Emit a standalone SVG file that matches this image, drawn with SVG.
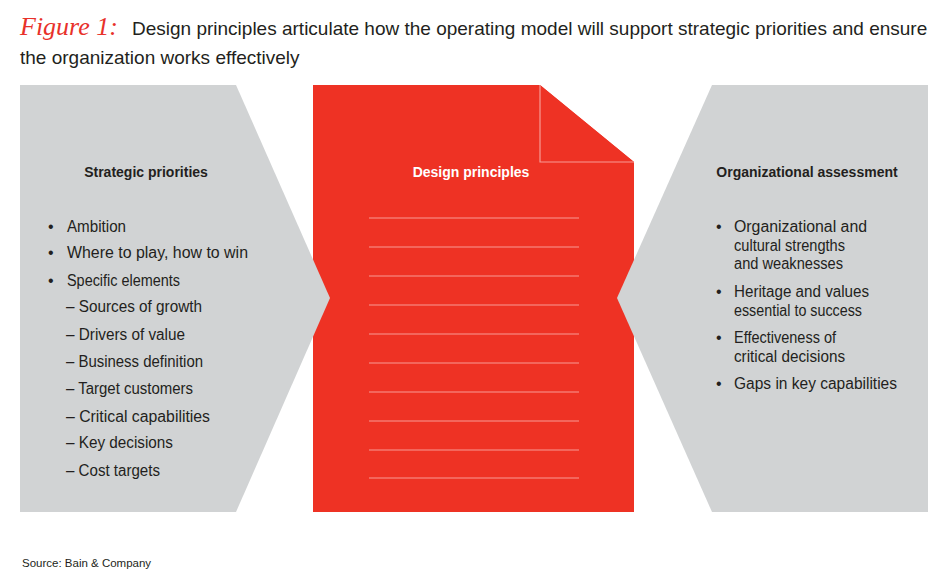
<svg xmlns="http://www.w3.org/2000/svg" width="950" height="579" viewBox="0 0 950 579">
  <style>
    .title { font-family: "Liberation Sans", Arial, sans-serif; font-size: 19px; fill: #231F20; }
    .fig { font-family: "Liberation Serif", "DejaVu Serif", serif; font-style: italic; font-size: 26px; fill: #E8312A; }
    .head { font-family: "Liberation Sans", Arial, sans-serif; font-size: 14px; font-weight: bold; fill: #231F20; text-anchor: middle; }
    .headw { font-family: "Liberation Sans", Arial, sans-serif; font-size: 14px; font-weight: bold; fill: #FFFFFF; text-anchor: middle; }
    .body { font-family: "Liberation Sans", Arial, sans-serif; font-size: 16px; fill: #231F20; }
    .src { font-family: "Liberation Sans", Arial, sans-serif; font-size: 11.5px; fill: #231F20; }
    .gray { fill: #D1D3D4; }
    .red { fill: #EE3224; }
    .rule { stroke: #F79A93; stroke-width: 1.2; fill: none; }
  </style>

  <g id="title">
    <text x="20" y="35"><tspan class="fig">Figure 1:</tspan></text>
    <text class="title" x="132" y="35">Design principles articulate how the operating model will support strategic priorities and ensure</text>
    <text class="title" x="20" y="64">the organization works effectively</text>
  </g>

  <g id="design-principles">
    <path class="red" d="M313,85 L540,85 L634,162 L634,512 L313,512 Z"/>
    <path class="red" d="M540,85 L540,162 L634,162 Z"/>
    <path class="rule" d="M540,85 L540,162 L634,162"/>
    <text class="headw" x="471" y="177">Design principles</text>
    <g class="rule">
      <line x1="369" y1="218" x2="579" y2="218"/>
      <line x1="369" y1="247" x2="579" y2="247"/>
      <line x1="369" y1="276" x2="579" y2="276"/>
      <line x1="369" y1="305" x2="579" y2="305"/>
      <line x1="369" y1="334" x2="579" y2="334"/>
      <line x1="369" y1="363" x2="579" y2="363"/>
      <line x1="369" y1="392" x2="579" y2="392"/>
      <line x1="369" y1="421" x2="579" y2="421"/>
      <line x1="369" y1="450" x2="579" y2="450"/>
      <line x1="369" y1="478" x2="579" y2="478"/>
    </g>
  </g>

  <g id="strategic-priorities">
    <path class="gray" d="M20,85 L236,85 L330,298 L236,512 L20,512 Z"/>
    <text class="head" x="146" y="177">Strategic priorities</text>
    <text class="body" x="48" y="232">•</text><text class="body" x="67" y="232" textLength="59" lengthAdjust="spacingAndGlyphs">Ambition</text>
    <text class="body" x="48" y="258">•</text><text class="body" x="67" y="258" textLength="181" lengthAdjust="spacingAndGlyphs">Where to play, how to win</text>
    <text class="body" x="48" y="286">•</text><text class="body" x="67" y="286" textLength="113" lengthAdjust="spacingAndGlyphs">Specific elements</text>
    <text class="body" x="66" y="312" textLength="136" lengthAdjust="spacingAndGlyphs">– Sources of growth</text>
    <text class="body" x="66" y="340" textLength="119" lengthAdjust="spacingAndGlyphs">– Drivers of value</text>
    <text class="body" x="66" y="367" textLength="137" lengthAdjust="spacingAndGlyphs">– Business definition</text>
    <text class="body" x="66" y="394" textLength="127" lengthAdjust="spacingAndGlyphs">– Target customers</text>
    <text class="body" x="66" y="422" textLength="144" lengthAdjust="spacingAndGlyphs">– Critical capabilities</text>
    <text class="body" x="66" y="448" textLength="107" lengthAdjust="spacingAndGlyphs">– Key decisions</text>
    <text class="body" x="66" y="476" textLength="94" lengthAdjust="spacingAndGlyphs">– Cost targets</text>
  </g>

  <g id="organizational-assessment">
    <path class="gray" d="M712,85 L928,85 L928,512 L712,512 L617,298 Z"/>
    <text class="head" x="807" y="177">Organizational assessment</text>
    <text class="body" x="716" y="232">•</text><text class="body" x="734" y="232" textLength="133" lengthAdjust="spacingAndGlyphs">Organizational and</text>
    <text class="body" x="734" y="251" textLength="111" lengthAdjust="spacingAndGlyphs">cultural strengths</text>
    <text class="body" x="734" y="269" textLength="109" lengthAdjust="spacingAndGlyphs">and weaknesses</text>
    <text class="body" x="716" y="297">•</text><text class="body" x="734" y="297" textLength="135" lengthAdjust="spacingAndGlyphs">Heritage and values</text>
    <text class="body" x="734" y="316" textLength="128" lengthAdjust="spacingAndGlyphs">essential to success</text>
    <text class="body" x="716" y="343">•</text><text class="body" x="734" y="343" textLength="102" lengthAdjust="spacingAndGlyphs">Effectiveness of</text>
    <text class="body" x="734" y="362" textLength="111" lengthAdjust="spacingAndGlyphs">critical decisions</text>
    <text class="body" x="716" y="389">•</text><text class="body" x="734" y="389" textLength="163" lengthAdjust="spacingAndGlyphs">Gaps in key capabilities</text>
  </g>

  <g id="source">
    <text class="src" x="22" y="567">Source: Bain &amp; Company</text>
  </g>
</svg>
